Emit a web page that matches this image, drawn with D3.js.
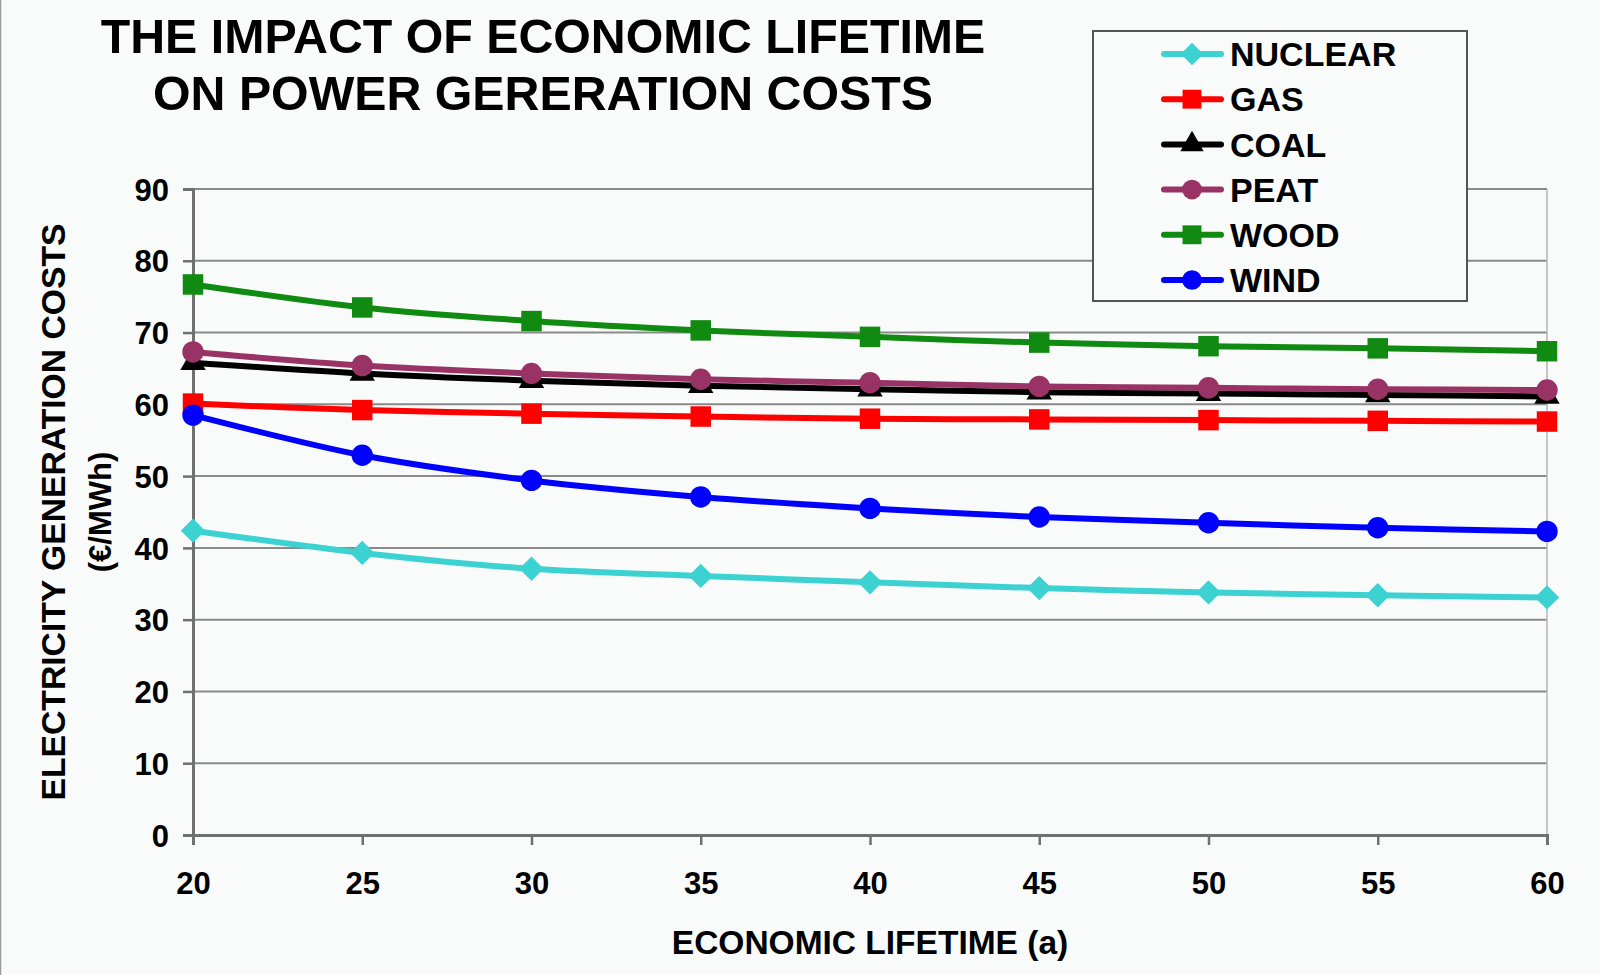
<!DOCTYPE html>
<html>
<head>
<meta charset="utf-8">
<script src="https://cdn.jsdelivr.net/npm/d3@7"></script>
<style>
	body { margin: 0; background: #f9fbfb; }
	svg { display: block; font-family: Arial, "Liberation Sans", sans-serif; font-weight: bold; }
</style>
</head>
<body>
<div id="chart"></div>
<script>
const lifetimes = [20, 25, 30, 35, 40, 45, 50, 55, 60];
const yTicks = [0, 10, 20, 30, 40, 50, 60, 70, 80, 90];

const nuclear = [42.4, 39.3, 37.1, 36.1, 35.2, 34.4, 33.8, 33.4, 33.1];
const gas = [60.1, 59.2, 58.7, 58.3, 58.0, 57.9, 57.8, 57.7, 57.6];
const coal = [65.8, 64.3, 63.3, 62.6, 62.1, 61.7, 61.5, 61.3, 61.1];
const peat = [67.3, 65.4, 64.3, 63.5, 63.0, 62.5, 62.3, 62.1, 62.0];
const wood = [76.7, 73.5, 71.6, 70.3, 69.4, 68.6, 68.1, 67.8, 67.4];
const wind = [58.5, 52.9, 49.4, 47.1, 45.5, 44.3, 43.5, 42.8, 42.3];

const seriesNames = ['NUCLEAR', 'GAS', 'COAL', 'PEAT', 'WOOD', 'WIND'];
const seriesValues = [nuclear, gas, coal, peat, wood, wind];

const styles = {
	NUCLEAR: { color: '#3cd2d2', symbol: d3.symbolDiamond2, size: 380, width: 6 },
	GAS: { color: '#ff0000', symbol: d3.symbolSquare, size: 420, width: 6 },
	COAL: { color: '#000000', symbol: d3.symbolTriangle, size: 280, width: 6 },
	PEAT: { color: '#993366', symbol: d3.symbolCircle, size: 360, width: 6 },
	WOOD: { color: '#108a10', symbol: d3.symbolSquare, size: 420, width: 6 },
	WIND: { color: '#0000ff', symbol: d3.symbolCircle, size: 360, width: 6 }
};

const width = 1600, height = 975;
const margin = { top: 189, bottom: 140, left: 193, right: 53 };
const chartWidth = width - margin.left - margin.right;
const chartHeight = height - margin.top - margin.bottom;

const svg = d3.select('#chart')
	.append('svg')
	.attr('width', width)
	.attr('height', height);

svg.append('rect')
	.attr('width', width)
	.attr('height', height)
	.attr('fill', '#f9fbfb');

svg.append('line')
	.attr('x1', 0.5).attr('x2', 0.5)
	.attr('y1', 0).attr('y2', height)
	.attr('stroke', '#9a9a9a')
	.attr('stroke-width', 1.5);

const xScale = d3.scaleLinear().domain([20, 60]).range([0, chartWidth]);
const yScale = d3.scaleLinear().domain([0, 90]).range([chartHeight, 0]);

const chartGroup = svg.append('g')
	.attr('transform', `translate(${margin.left},${margin.top})`);

// grid lines
chartGroup.selectAll('.grid')
	.data(yTicks.slice(1))
	.enter()
	.append('line')
	.attr('x1', 0)
	.attr('x2', chartWidth)
	.attr('y1', d => yScale(d))
	.attr('y2', d => yScale(d))
	.attr('stroke', '#8a8a8a')
	.attr('stroke-width', 2);

// right border
chartGroup.append('line')
	.attr('x1', chartWidth).attr('x2', chartWidth)
	.attr('y1', 0).attr('y2', chartHeight)
	.attr('stroke', '#b4b4b4')
	.attr('stroke-width', 1.5);

// axes
const yAxis = d3.axisLeft(yScale).tickValues(yTicks).tickSize(10).tickPadding(14);
const xAxis = d3.axisBottom(xScale).tickValues(lifetimes).tickSize(10).tickPadding(27);

const yAxisG = chartGroup.append('g').call(yAxis);
const xAxisG = chartGroup.append('g')
	.attr('transform', `translate(0,${chartHeight})`)
	.call(xAxis);

[yAxisG, xAxisG].forEach(g => {
	g.selectAll('path').attr('stroke', '#707070').attr('stroke-width', 3);
	g.selectAll('line').attr('stroke', '#707070').attr('stroke-width', 2.5);
	g.selectAll('text')
		.attr('fill', '#000')
		.style('font-size', '31px')
		.style('font-weight', 'bold')
		.style('font-family', 'Arial, "Liberation Sans", sans-serif');
});
yAxisG.selectAll('text').attr('dy', '0.36em');

// series lines and markers
const line = d3.line()
	.x((d, i) => xScale(lifetimes[i]))
	.y(d => yScale(d))
	.curve(d3.curveCardinal.tension(0.1));

seriesNames.forEach((name, s) => {
	const st = styles[name];
	const values = seriesValues[s];
	chartGroup.append('path')
		.attr('fill', 'none')
		.attr('stroke', st.color)
		.attr('stroke-width', st.width)
		.attr('stroke-linejoin', 'round')
		.attr('d', line(values));

	chartGroup.selectAll(null)
		.data(values)
		.enter()
		.append('path')
		.attr('d', d3.symbol().type(st.symbol).size(st.size))
		.attr('transform', (d, i) => `translate(${xScale(lifetimes[i])},${yScale(d)})`)
		.attr('fill', st.color);
});

// titles
svg.append('text')
	.attr('x', 543)
	.attr('y', 53)
	.attr('text-anchor', 'middle')
	.style('font-size', '48.3px')
	.text('THE IMPACT OF ECONOMIC LIFETIME');

svg.append('text')
	.attr('x', 543)
	.attr('y', 110)
	.attr('text-anchor', 'middle')
	.style('font-size', '48.3px')
	.text('ON POWER GERERATION COSTS');

svg.append('text')
	.attr('transform', `translate(65,${margin.top + chartHeight / 2}) rotate(-90)`)
	.attr('text-anchor', 'middle')
	.style('font-size', '33.7px')
	.text('ELECTRICITY GENERATION COSTS');

svg.append('text')
	.attr('transform', `translate(111,${margin.top + chartHeight / 2}) rotate(-90)`)
	.attr('text-anchor', 'middle')
	.style('font-size', '31px')
	.text('(€/MWh)');

svg.append('text')
	.attr('x', margin.left + chartWidth / 2)
	.attr('y', 954)
	.attr('text-anchor', 'middle')
	.style('font-size', '33.5px')
	.text('ECONOMIC LIFETIME (a)');

// legend
const legend = svg.append('g').attr('transform', 'translate(1093,31)');
legend.append('rect')
	.attr('width', 374)
	.attr('height', 270)
	.attr('fill', '#f9fbfb')
	.attr('stroke', '#555')
	.attr('stroke-width', 2);

seriesNames.forEach((name, i) => {
	const st = styles[name];
	const item = legend.append('g').attr('transform', `translate(0,${23 + i * 45.2})`);
	item.append('line')
		.attr('x1', 71).attr('x2', 128)
		.attr('stroke', st.color)
		.attr('stroke-width', st.width)
		.attr('stroke-linecap', 'round');
	item.append('path')
		.attr('d', d3.symbol().type(st.symbol).size(st.size * 0.85))
		.attr('transform', 'translate(99,0)')
		.attr('fill', st.color);
	item.append('text')
		.attr('x', 137)
		.attr('dy', '0.36em')
		.style('font-size', '34px')
		.text(name);
});
</script>
</body>
</html>
